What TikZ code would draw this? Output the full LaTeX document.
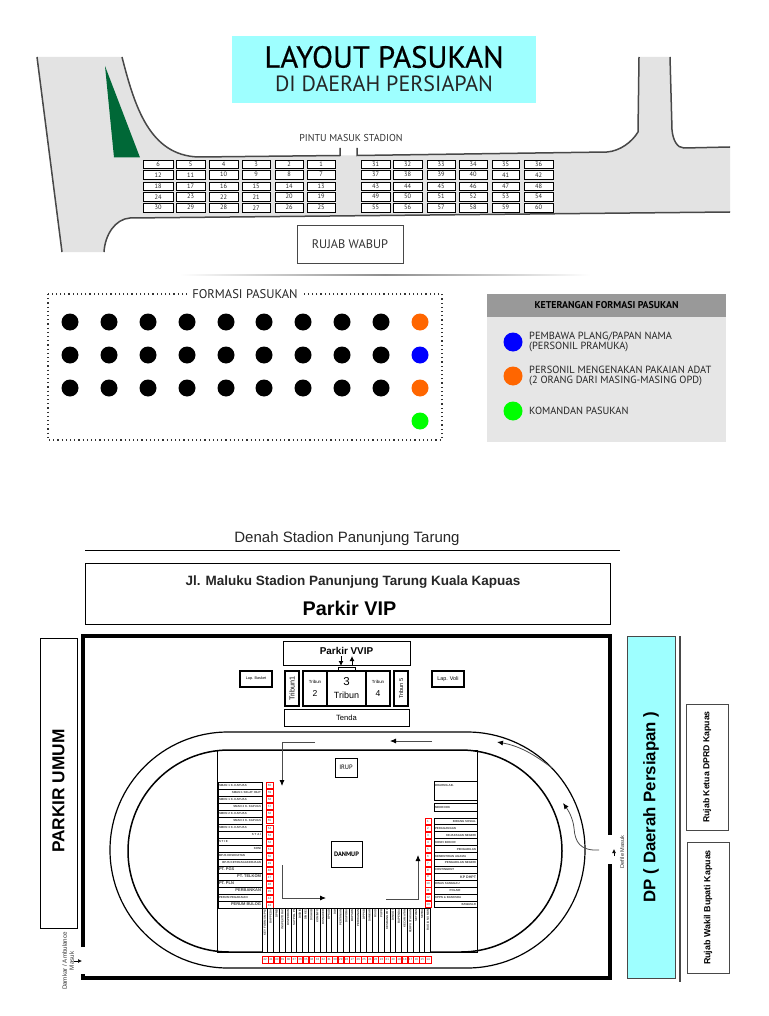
\documentclass[tikz,border=0pt]{standalone}
\usepackage{fontspec}
\setmainfont{Liberation Sans}
\newfontfamily\din{PT Sans}
\newfontfamily\dinb[FakeBold=0.5]{PT Sans}
\usetikzlibrary{arrows.meta}
\definecolor{cy}{HTML}{9EFFFF}
\definecolor{road}{HTML}{E3E3E3}
\definecolor{edge}{HTML}{484848}
\definecolor{grn}{HTML}{006837}
\definecolor{legbg}{HTML}{E6E6E6}
\definecolor{leghd}{HTML}{999999}
\tikzset{
  pb/.style={draw=black,line width=0.8pt,inner sep=0pt,align=center,fill=white},
  thickb/.style={pb,line width=1.6pt},
  grayb/.style={pb,draw=edge,line width=1pt},
  rowb/.style={pb,line width=1pt,font=\fontsize{2.9}{3}\selectfont\bfseries,text=black!75},
  redb/.style={draw=red,line width=0.7pt,inner sep=0pt,fill=white,font=\fontsize{3}{3}\selectfont,text=black!70},
  gridb/.style={draw=black,line width=0.8pt,inner sep=0pt,fill=white,font=\din\fontsize{6.4}{7}\selectfont,text=black!85},
  dot/.style={circle,inner sep=0pt,minimum size=17pt,fill=black},
  legdot/.style={circle,inner sep=0pt,minimum size=19pt},
  wall/.style={line width=3.4pt,black},
  track/.style={line width=1.5pt,black},
  way/.style={line width=0.8pt,draw=black!70,-{Latex[length=6pt,width=5pt,black]}},
  leg/.style={inner sep=0pt,anchor=west,align=left,font=\din\fontsize{10.4}{10.6}\selectfont,text=black!85},
}
\newcommand{\bx}[7][pb]{%
  \pgfmathsetmacro{\cxx}{(#3+#5)/2}\pgfmathsetmacro{\cyy}{(#4+#6)/2}%
  \pgfmathsetmacro{\wxx}{#5-#3}\pgfmathsetmacro{\hyy}{#6-#4}%
  \node[#1,minimum width=\wxx pt,minimum height=\hyy pt] (#2) at (\cxx,\cyy) {#7};}
\newcommand{\up}[1]{\rotatebox{90}{#1}}
\begin{document}
\begin{tikzpicture}[x=1pt,y=-1pt]
\useasboundingbox (0,0) rectangle (768,1016);
\fill[white] (0,0) rectangle (768,1016);
% title
\bx[{fill=cy,inner sep=0pt,align=center}]{title}{232}{36}{536}{103}{}
\node[inner sep=0pt,font=\dinb\fontsize{30.6}{33}\selectfont] (t1) at (384,57) {LAYOUT PASUKAN};
\node[inner sep=0pt,font=\din\fontsize{22}{23}\selectfont,text=black!85] (t2) at (384,84) {DI DAERAH PERSIAPAN};
% road
\fill[road] (37,57) -- (122,57) .. controls (135,108) and (150,155) .. (198,157) -- (340,155.5) -- (357,155.5) -- (607,152)
  .. controls (620,151) and (632,142) .. (638,132) -- (639,57) -- (670,57) -- (672,130)
  .. controls (673,140) and (677,148) .. (684,148) -- (730,147) -- (730,212) -- (130,218)
  .. controls (115,219) and (105,235) .. (104,252) -- (62,252) -- cycle;
\draw[edge,line width=1.5pt] (37,57) -- (62,252);
\draw[edge,line width=1.5pt] (122,57) .. controls (135,108) and (150,155) .. (198,157) -- (340,155.5) -- (340,148);
\draw[edge,line width=1.5pt] (357,148) -- (357,155.5) -- (607,152) .. controls (620,151) and (632,142) .. (638,132) -- (639,57);
\draw[edge,line width=1.5pt] (670,57) -- (672,130) .. controls (673,140) and (677,148) .. (684,148) -- (730,147);
\draw[edge,line width=1.5pt] (730,212) -- (130,218) .. controls (115,219) and (105,235) .. (104,252);
\fill[grn] (105,66) -- (140,157.5) -- (114,157.5) -- cycle;
\node[inner sep=0pt,font=\din\fontsize{10}{11}\selectfont,text=black!80] (gate) at (351,138) {PINTU MASUK STADION};
% troop grid
\foreach \rr/\ya/\yb [count=\r from 0] in {0/160.5/168.5,1/170.5/179,2/182/190,3/192.5/201,4/203.5/212}{
  \foreach \xa/\xb [count=\c from 0] in {143/173,176/205,209/238,242/270,275/303,307/335}{
    \pgfmathtruncatemacro{\nn}{6*\r+6-\c}
    \bx[gridb]{p\nn}{\xa}{\ya}{\xb}{\yb}{\nn}
  }
  \foreach \xa/\xb [count=\c from 0] in {361/390,393/422,427/455,459/487,492/519,524/553}{
    \pgfmathtruncatemacro{\nn}{31+6*\r+\c}
    \bx[gridb]{p\nn}{\xa}{\ya}{\xb}{\yb}{\nn}
  }
}
\bx[{pb,draw=edge,line width=1pt,font=\din\fontsize{12.4}{13}\selectfont,text=black!80}]{wabup}{297}{226}{403}{263}{RUJAB WABUP}
\shade[left color=white,right color=white,middle color=black!45] (180,274.6) rectangle (590,275.6);
% formation
\draw[line width=1.2pt,dash pattern=on 1.2pt off 3pt,black!80] (48,294) rectangle (442,440);
\node[fill=white,inner sep=4pt,font=\din\fontsize{12.6}{13}\selectfont,text=black!85] (form) at (245,294) {FORMASI PASUKAN};
\foreach \yy [count=\r] in {322,355,388}{
  \foreach \xx [count=\c] in {70,109,148,187,226,264,303,342,381}{
    \node[dot] (d\r\c) at (\xx,\yy) {};
  }
}
\node[dot,fill={rgb,255:red,255;green,102;blue,0}] (o1) at (420,322) {};
\node[dot,fill={rgb,255:red,0;green,0;blue,255}] (b1) at (420,355) {};
\node[dot,fill={rgb,255:red,255;green,102;blue,0}] (o2) at (420,388) {};
\node[dot,fill={rgb,255:red,0;green,255;blue,0}] (g1) at (420,421) {};
% legend
\fill[legbg] (487,294) rectangle (726,442);
\fill[leghd] (487,294) rectangle (726,317);
\node[inner sep=0pt,font=\din\bfseries\fontsize{9.9}{10}\selectfont] (lt) at (606.5,305) {KETERANGAN FORMASI PASUKAN};
\node[legdot,fill={rgb,255:red,0;green,0;blue,255}] (l1) at (513,342) {};
\node[legdot,fill={rgb,255:red,255;green,102;blue,0}] (l2) at (513,376) {};
\node[legdot,fill={rgb,255:red,0;green,255;blue,0}] (l3) at (513,411) {};
\node[leg] (lt1) at (529,342) {PEMBAWA PLANG/PAPAN NAMA\\(PERSONIL PRAMUKA)};
\node[leg] (lt2) at (529,376) {PERSONIL MENGENAKAN PAKAIAN ADAT\\(2 ORANG DARI MASING-MASING OPD)};
\node[leg] (lt3) at (529,411) {KOMANDAN PASUKAN};
% stadium header
\node[inner sep=0pt,font=\fontsize{15}{16}\selectfont,text=black!85] (den) at (347,538.5) {Denah Stadion Panunjung Tarung};
\coordinate (hl) at (85,550); \coordinate (hr) at (620,550);
\draw[line width=0.9pt] (hl) -- (hr);
\bx{vip}{85}{563}{610}{624}{}
\node[inner sep=0pt,font=\bfseries\fontsize{13.5}{14}\selectfont,text=black!85] (jl) at (353,582) {Jl. Maluku Stadion Panunjung Tarung Kuala Kapuas};
\node[inner sep=0pt,font=\bfseries\fontsize{19.8}{20}\selectfont] (pv) at (349.5,608) {Parkir VIP};
\bx{umum}{40}{638}{77}{928}{\up{\bfseries\fontsize{17.3}{18}\selectfont PARKIR UMUM\hspace*{16pt}}}
% walls
\coordinate (w1) at (83,947); \coordinate (w2) at (83,636); \coordinate (w3) at (610,636); \coordinate (w4) at (610,835);
\coordinate (w5) at (610,864); \coordinate (w6) at (610,978); \coordinate (w7) at (83,978); \coordinate (w8) at (83,974);
\draw[wall,line cap=butt,line join=miter] (w1) -- (w2) -- (w3) -- (w4);
\draw[wall,line cap=butt,line join=miter] (w5) -- (w6) -- (w7) -- (w8);
% track
\draw[line width=1.2pt] (110,732) [rounded corners=118pt] rectangle (585,968);
\draw[track] (128,750) [rounded corners=101pt] rectangle (562,952);
\draw[line width=0.9pt] (217,750) rectangle (477,952);
% tribunes
\bx[{pb,line width=1pt}]{vvip}{283}{641}{410}{665}{\raisebox{5pt}{\bfseries\fontsize{9.9}{10}\selectfont Parkir VVIP}}
\bx[{pb,line width=1pt}]{door}{338}{667}{355}{670}{}
\coordinate (a1s) at (341,656); \coordinate (a1e) at (341,666);
\coordinate (a2s) at (352,666); \coordinate (a2e) at (352,656);
\draw[-{Latex[length=5pt,width=5pt]},line width=1pt] (a1s) -- (a1e);
\draw[-{Latex[length=5pt,width=5pt]},line width=1pt] (a2s) -- (a2e);
\bx[{thickb,font=\fontsize{3.8}{4}\selectfont}]{bask}{240}{671}{272}{687}{Lap. Basket}
\bx[{thickb,font=\fontsize{5.4}{6}\selectfont}]{voli}{432}{671}{464}{687}{Lap. Voli}
\bx[{thickb,font=\fontsize{7.2}{8}\selectfont}]{t1b}{285}{671}{299}{706}{\up{Tribun1}}
\bx[{thickb}]{t2b}{303}{671}{327}{706}{{\fontsize{4.4}{5}\selectfont Tribun}\\[1pt]{\fontsize{8.6}{9}\selectfont 2}}
\bx[{thickb}]{t3b}{327}{671}{366}{706}{{\fontsize{11.5}{12}\selectfont 3}\\[1pt]{\fontsize{9}{10}\selectfont Tribun}}
\bx[{thickb}]{t4b}{366}{671}{390}{706}{{\fontsize{4.4}{5}\selectfont Tribun}\\[1pt]{\fontsize{8.6}{9}\selectfont 4}}
\bx[{thickb,font=\fontsize{5.6}{6}\selectfont}]{t5b}{394}{671}{408}{706}{\up{Tribun 5}}
\bx[{pb,line width=1pt,font=\fontsize{7.6}{8}\selectfont}]{tenda}{284}{709}{409}{726}{Tenda}
% march arrows
\coordinate (m1) at (315,742); \coordinate (m2) at (282,742); \coordinate (m3) at (282,786);
\draw[way] (m1) -- (m2) -- (m3);
\coordinate (m4) at (432,741); \coordinate (m5) at (390,741);
\draw[way] (m4) -- (m5);
\coordinate (m6) at (282,865); \coordinate (m7) at (282,898); \coordinate (m8) at (326,898);
\draw[way] (m6) -- (m7) -- (m8);
\coordinate (m9) at (386,899); \coordinate (m10) at (418,899); \coordinate (m11) at (418,855);
\draw[way] (m9) -- (m10) -- (m11);
\coordinate (c1) at (599,850); \coordinate (c2) at (563,803);
\draw[way] (c1) .. controls (580,851) and (575,842) .. (574,828) .. controls (573,818) and (568,810) .. (c2);
\coordinate (c3) at (552,768); \coordinate (c4) at (497,742);
\draw[way] (c3) .. controls (535,755) and (520,746) .. (c4);
% field boxes
\bx[{pb,line width=1pt,font=\din\fontsize{6.4}{7}\selectfont}]{irup}{335}{758}{357}{777}{IRUP}
\bx[{pb,line width=1pt,font=\din\fontsize{6.4}{7}\selectfont\bfseries}]{danmup}{331}{841}{362}{867}{DANMUP}
% left table
\foreach \lab/\anc [count=\i from 0] in {
  SMAN 1 K. KAPUAS/l,SMAN 1 SELAT HILIT/r,SMKN 1 K. KAPUAS/l,SMAN 2 K. KAPUAS/r,SMKN 2 K. KAPUAS/l,SMAN 3 K. KAPUAS/r,
  SMKN 3 K. KAPUAS/l,S T A I/r,S T I E/l,KONI/r,BPJS KESEHATAN/l,BPJS KETENAGAKERJAAN/r,{\fontsize{4}{4}\selectfont PT. PGS}/l,
  {\fontsize{4}{4}\selectfont PT. TELKOM}/r,{\fontsize{4}{4}\selectfont PT. PLN}/l,{\fontsize{4}{4}\selectfont PERBANKAN}/r,PERUM PEGADAIAN/l,{\fontsize{4}{4}\selectfont PERUM BULOG}/r}{
  \pgfmathsetmacro{\ya}{782+7*\i}\pgfmathsetmacro{\yb}{789+7*\i}
  \bx[rowb]{lr\i}{218}{\ya}{262}{\yb}{\makebox[42pt][\anc]{\lab}}
  \pgfmathtruncatemacro{\nn}{60-\i}
  \pgfmathsetmacro{\gap}{\i>5?0.6:0}
  \pgfmathsetmacro{\ra}{\ya+0.6+\gap}\pgfmathsetmacro{\rb}{\yb-0.4+\gap}
  \bx[redb]{r\nn}{266}{\ra}{273}{\rb}{\nn}
}
% right table
\bx[rowb]{rb1}{434}{781}{477}{800}{\raisebox{11pt}{\makebox[41pt][l]{DHARMA.AB.}}}
\bx[rowb]{rb2}{434}{803}{477}{811}{\makebox[41pt][l]{MEDROOK}}
\foreach \lab/\anc [count=\i from 0] in {
  BIDANG SOSIAL/r,PEDAGANGAN/l,KEJAKSAAN NEGERI/r,KONFI BOKOR/l,PENGADILAN/r,KEMENTRIAN AGAMA/l,PENGADILAN NEGERI/r,
  CONTINGENT/l,{\fontsize{3.6}{4}\selectfont KP DHPT}/r,DINAS SANGGAU/l,POLAIR / POLRES/r,KPPN \& BANKSDA/l,BAWASLR/r}{
  \pgfmathsetmacro{\ya}{818+6.92*\i}\pgfmathsetmacro{\yb}{\ya+6.92}
  \bx[rowb]{rr\i}{434}{\ya}{477}{\yb}{\makebox[41pt][\anc]{\lab}}
  \pgfmathtruncatemacro{\nn}{\i+1}
  \pgfmathsetmacro{\ra}{\ya+0.5}\pgfmathsetmacro{\rb}{\yb-0.3}
  \bx[redb]{r\nn}{425}{\ra}{431}{\rb}{\nn}
}
% bottom strips + red boxes
\foreach \lab/\anc [count=\i from 0] in {
  KEY FORM SMPN3/t,BAPPEDA/t,DPMD/b,INSPEKTORAT/t,DISPERKIM/b,SATPOL PP/t,DISDIK/b,DINKES/t,DISHUB/b,KOMINFO/t,DISNAKER/b,
  BPKAD/t,DLH/t,PERTANIAN/b,DISPORA/t,BKPSDM/b,PERIKANAN/b,DPPKB/t,DAMKAR/b,RSUD/t,PUPR/b,KESBANGPOL/b,DINSOS/t,BAPENDA/b,
  KECAMATAN/t,PERPUSTAKAAN/b,SETWAN/t,SETDA/t,BAGIAN UMUM/b}{
  \pgfmathsetmacro{\xa}{262+5.82*\i}\pgfmathsetmacro{\xb}{\xa+5.82}
  \bx[rowb]{s\i}{\xa}{908}{\xb}{952}{\up{\makebox[42pt][\ifx\anc b l\else r\fi]{\lab}}}
  \pgfmathtruncatemacro{\nn}{42-\i}
  \pgfmathsetmacro{\ra}{\xa+0.4}\pgfmathsetmacro{\rb}{\xb+0.1}
  \bx[redb]{r\nn}{\ra}{956}{\rb}{963}{\nn}
}
% entrances
\node[inner sep=0pt,font=\fontsize{5.6}{6}\selectfont,text=black!80] (def) at (622,852) {\up{Defile Masuk}};
\coordinate (de1) at (614,856); \coordinate (de2) at (614,849);
\draw[-{Latex[length=4pt,width=4pt]},line width=0.7pt] (de1) -- (de2);
\node[inner sep=0pt,font=\fontsize{6.2}{7}\selectfont,text=black!80,align=center] (dam) at (69,961) {\up{\begin{tabular}{@{}c@{}}Damkar / Ambulance\\Masuk\end{tabular}}};
\coordinate (da1) at (74,961); \coordinate (da2) at (82,961);
\draw[-{Latex[length=4pt,width=4pt]},line width=0.7pt] (da1) -- (da2);
% right side
\bx[{draw=edge,line width=1pt,fill=cy,inner sep=0pt}]{dp}{627}{636}{675}{978}{\up{\bfseries\fontsize{16.8}{17}\selectfont DP ( Daerah Persiapan )}}
\coordinate (vl1) at (680,636); \coordinate (vl2) at (680,982);
\draw[edge,line width=1.1pt] (vl1) -- (vl2);
\bx[grayb]{ketua}{686}{704}{728}{830}{\up{\bfseries\fontsize{8.7}{9}\selectfont Rujab Ketua DPRD Kapuas}}
\bx[grayb]{wakil}{687}{842}{729}{973}{\up{\bfseries\fontsize{8.9}{9}\selectfont Rujab Wakil Bupati Kapuas}}
\end{tikzpicture}
\end{document}
